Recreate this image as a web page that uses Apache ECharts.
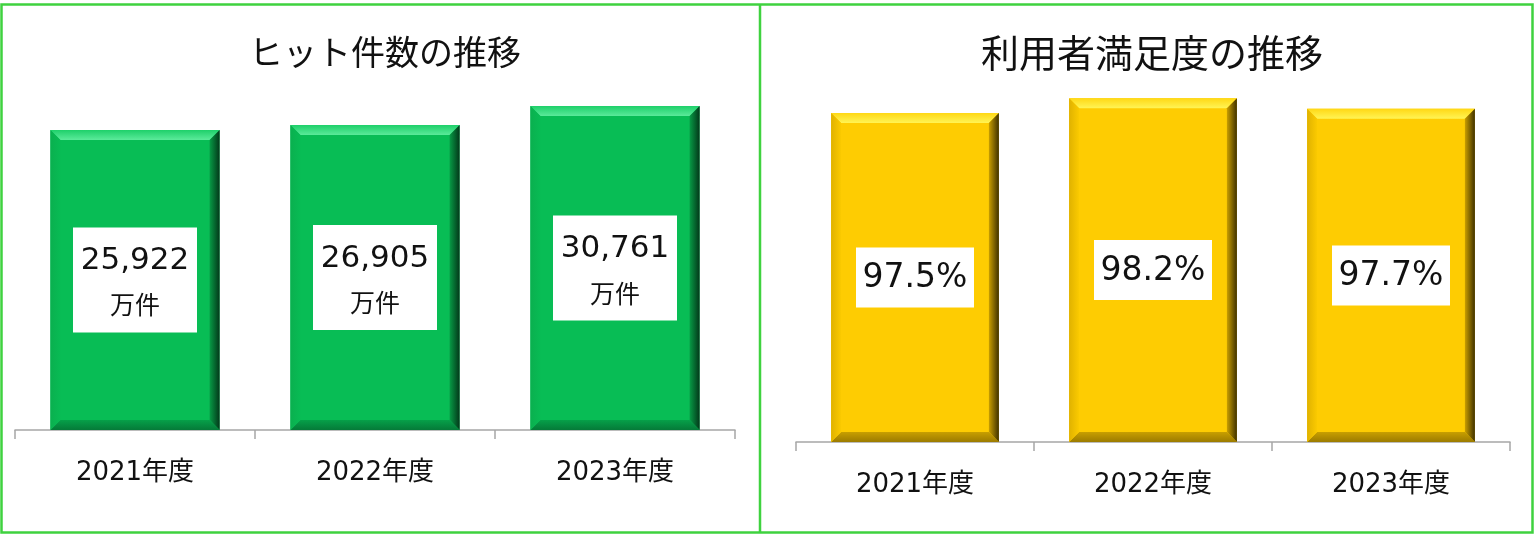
<!DOCTYPE html>
<html>
<head>
<meta charset="utf-8">
<script src="https://cdn.jsdelivr.net/npm/echarts@6/dist/echarts.min.js"></script>
<style>html,body{margin:0;padding:0;background:#fff}#c{width:1536px;height:538px}</style>
</head>
<body>
<div id="c"></div>
<script>
const categories = ['2021年度', '2022年度', '2023年度'];
const hitValues = [25922, 26905, 30761];
const hitUnit = '万件';
const satValues = [97.5, 98.2, 97.7];
const titles = ['ヒット件数の推移', '利用者満足度の推移'];

const FONT = "'DejaVu Sans', 'Noto Sans CJK JP', sans-serif";
const HIT_MIN = -35000, HIT_MAX = 32000;
const SAT_MIN = 82, SAT_MAX = 100;

const G = echarts.graphic;
function lg(x0, y0, x1, y1, c0, c1) {
  return new G.LinearGradient(x0, y0, x1, y1, [{offset: 0, color: c0}, {offset: 1, color: c1}]);
}
const palettes = {
  green: {main: '#08BD55', top: ['#5BEA9A', '#1ED06A'], right: ['#079a45', '#03381a'], bottom: ['#06a049', '#057a38'], left: ['#0ab04f', '#08bb54']},
  yellow: {main: '#FECC02', top: ['#FFF455', '#FFD814'], right: ['#c99e00', '#3f3100'], bottom: ['#c89f00', '#9c7b00'], left: ['#e0b200', '#fbca00']}
};

function makeRender(minVal, pal, labelFn, box) {
  return function (params, api) {
    const cat = api.value(0), val = api.value(1);
    const top = api.coord([cat, val]);
    const base = api.coord([cat, minVal]);
    const w = api.size([1, 0])[0] * 0.705;
    const x0 = top[0] - w / 2, x1 = top[0] + w / 2, y0 = top[1], y1 = base[1];
    const b = 10;
    const cx = top[0], cy = (y0 + y1) / 2;
    const children = [
      {type: 'rect', shape: {x: x0, y: y0, width: w, height: y1 - y0}, style: {fill: pal.main}},
      {type: 'polygon', shape: {points: [[x0, y0], [x1, y0], [x1 - b, y0 + b], [x0 + b, y0 + b]]}, style: {fill: lg(0, 0, 0, 1, pal.top[1], pal.top[0])}},
      {type: 'polygon', shape: {points: [[x1, y0], [x1, y1], [x1 - b, y1 - b], [x1 - b, y0 + b]]}, style: {fill: lg(0, 0, 1, 0, pal.right[0], pal.right[1])}},
      {type: 'polygon', shape: {points: [[x0, y1], [x1, y1], [x1 - b, y1 - b], [x0 + b, y1 - b]]}, style: {fill: lg(0, 0, 0, 1, pal.bottom[0], pal.bottom[1])}},
      {type: 'polygon', shape: {points: [[x0, y0], [x0 + b, y0 + b], [x0 + b, y1 - b], [x0, y1]]}, style: {fill: lg(0, 0, 1, 0, pal.left[0], pal.left[1])}},
      {type: 'rect', shape: {x: cx - box.w / 2, y: cy - box.h / 2, width: box.w, height: box.h}, style: {fill: '#ffffff'}}
    ];
    labelFn(val).forEach(function (t) {
      children.push({type: 'text', style: {text: t.text, x: cx, y: cy + t.dy, align: 'center', verticalAlign: 'middle', fill: '#111', font: t.size + 'px ' + FONT}});
    });
    return {type: 'group', children: children};
  };
}

const chart = echarts.init(document.getElementById('c'), null, {renderer: 'canvas'});
const axisCommon = {
  type: 'category', data: categories, boundaryGap: true,
  axisLine: {show: true, onZero: false, lineStyle: {color: '#a6a6a6', width: 1.5}},
  axisTick: {show: true, length: 9, alignWithLabel: false, lineStyle: {color: '#a6a6a6', width: 1.5}},
  axisLabel: {fontSize: 26, color: '#111', margin: 30, fontFamily: FONT}
};
chart.setOption({
  animation: false,
  title: [
    {text: titles[0], left: 380, top: 34, textAlign: 'center', textStyle: {fontSize: 34, fontWeight: 'normal', color: '#111', fontFamily: FONT}},
    {text: titles[1], left: 1147, top: 33, textAlign: 'center', textStyle: {fontSize: 38, fontWeight: 'normal', color: '#111', fontFamily: FONT}}
  ],
  grid: [
    {left: 15, width: 720, top: 100, height: 330},
    {left: 796, width: 714, top: 60, height: 382}
  ],
  xAxis: [
    Object.assign({gridIndex: 0}, axisCommon),
    Object.assign({gridIndex: 1}, axisCommon)
  ],
  yAxis: [
    {type: 'value', gridIndex: 0, min: HIT_MIN, max: HIT_MAX, show: false, splitLine: {show: false}},
    {type: 'value', gridIndex: 1, min: SAT_MIN, max: SAT_MAX, show: false, splitLine: {show: false}}
  ],
  graphic: [
    {type: 'rect', shape: {x: 1.5, y: 4.5, width: 1531, height: 528}, style: {fill: 'none', stroke: '#3fd23f', lineWidth: 2.5}, z: 10},
    {type: 'line', shape: {x1: 760, y1: 4.5, x2: 760, y2: 532.5}, style: {stroke: '#3fd23f', lineWidth: 2.5}, z: 10}
  ],
  series: [
    {
      type: 'custom', xAxisIndex: 0, yAxisIndex: 0,
      data: hitValues.map(function (v, i) { return [i, v]; }),
      encode: {x: 0, y: 1},
      renderItem: makeRender(HIT_MIN, palettes.green, function (v) {
        return [{text: v.toLocaleString('en-US'), dy: -19, size: 31}, {text: hitUnit, dy: 28, size: 25}];
      }, {w: 124, h: 105})
    },
    {
      type: 'custom', xAxisIndex: 1, yAxisIndex: 1,
      data: satValues.map(function (v, i) { return [i, v]; }),
      encode: {x: 0, y: 1},
      renderItem: makeRender(SAT_MIN, palettes.yellow, function (v) {
        return [{text: v.toFixed(1) + '%', dy: 1, size: 33}];
      }, {w: 118, h: 60})
    }
  ]
});
</script>
</body>
</html>
